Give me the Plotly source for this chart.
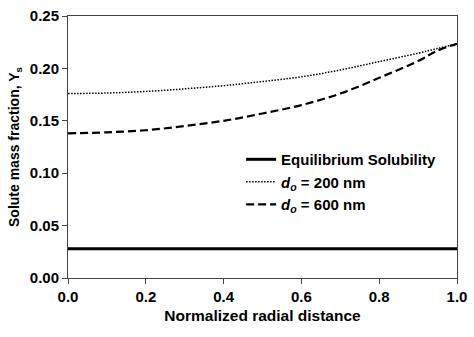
import plotly.graph_objects as go

# Normalized radial distance (0 = particle centre, 1 = surface)
r_norm = [0.0, 0.1, 0.2, 0.3, 0.4, 0.5, 0.6, 0.7, 0.8, 0.9, 0.95, 1.0]

# Solute mass fraction profiles
ys_200nm = [0.176, 0.1765, 0.178, 0.1805, 0.1835, 0.1875, 0.192, 0.1985, 0.2065, 0.2145, 0.219, 0.2235]
ys_600nm = [0.138, 0.139, 0.141, 0.145, 0.150, 0.157, 0.165, 0.176, 0.191, 0.207, 0.217, 0.2235]

# Equilibrium solubility (constant)
eq_x = [0.0, 1.0]
eq_solubility = [0.028, 0.028]

FONT = "Liberation Sans, Arial, sans-serif"
AXIS_COLOR = "#444444"

fig = go.Figure()
fig.add_trace(go.Scatter(
    x=eq_x, y=eq_solubility, mode="lines", name="Equilibrium Solubility",
    line=dict(color="black", width=3),
))
fig.add_trace(go.Scatter(
    x=r_norm, y=ys_200nm, mode="lines", name="<i>d<sub>o</sub></i> = 200 nm",
    line=dict(color="black", width=1.5, dash="1.5px,1.5px", shape="spline"),
))
fig.add_trace(go.Scatter(
    x=r_norm, y=ys_600nm, mode="lines", name="<i>d<sub>o</sub></i> = 600 nm",
    line=dict(color="black", width=2.2, dash="8px,4px", shape="spline"),
))

axis_common = dict(
    showline=True, linecolor=AXIS_COLOR, linewidth=1, mirror=True,
    ticks="outside", ticklen=5, tickcolor=AXIS_COLOR, tickwidth=1,
    showgrid=False, zeroline=False,
    tickfont=dict(family=FONT, size=15, color="black", weight="bold"),
)

fig.update_layout(
    width=474, height=337,
    margin=dict(l=68, r=17, t=7, b=59),
    paper_bgcolor="white", plot_bgcolor="white",
    font=dict(family=FONT, size=15, color="black"),
    xaxis=dict(range=[0, 1], tickvals=[0, 0.2, 0.4, 0.6, 0.8, 1.0],
               ticktext=["0.0", "0.2", "0.4", "0.6", "0.8", "1.0"],
               title=dict(text="Normalized radial distance", standoff=6,
                          font=dict(family=FONT, size=15.5, color="black", weight="bold")),
               **axis_common),
    yaxis=dict(range=[0, 0.25], tickvals=[0, 0.05, 0.10, 0.15, 0.20, 0.25],
               ticktext=["0.00", "0.05", "0.10", "0.15", "0.20", "0.25"],
               ticklabeloverflow="allow",
               title=dict(text="Solute mass fraction, Y<sub>s</sub>", standoff=6,
                          font=dict(family=FONT, size=14, color="black", weight="bold")),
               **axis_common),
    legend=dict(
        x=0.445, y=0.515, xanchor="left", yanchor="top",
        bgcolor="rgba(0,0,0,0)", borderwidth=0,
        font=dict(family=FONT, size=15, color="black", weight="bold"),
        itemwidth=30, tracegroupgap=0,
    ),
    showlegend=True,
)

fig.write_html("out.html")
